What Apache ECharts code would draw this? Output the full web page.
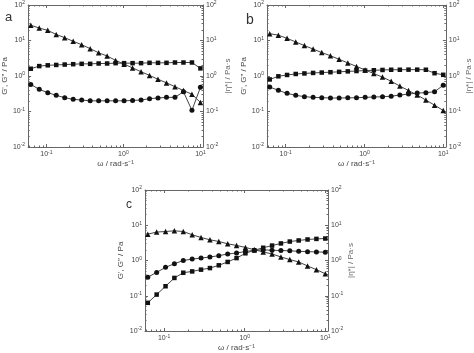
<!DOCTYPE html>
<html><head><meta charset="utf-8">
<script src="https://cdn.jsdelivr.net/npm/echarts@6/dist/echarts.min.js"></script>
<style>html,body{margin:0;padding:0;background:#fff}#c{width:474px;height:353px}</style>
</head><body><div id="c"></div>
<script>
// angular frequency (rad/s)
const omega = [0.0628, 0.0809, 0.1043, 0.1343, 0.1731, 0.2231, 0.2874, 0.3704, 0.4773, 0.615, 0.7926, 1.021, 1.316, 1.696, 2.185, 2.815, 3.627, 4.674, 6.023, 7.761, 10.0];
// panel a
const aStorage = [1.6, 1.9, 2.0, 2.05, 2.1, 2.15, 2.2, 2.2, 2.25, 2.25, 2.3, 2.3, 2.3, 2.3, 2.35, 2.35, 2.35, 2.4, 2.4, 2.4, 1.64];
const aLoss = [0.58, 0.42, 0.34, 0.285, 0.245, 0.22, 0.21, 0.2, 0.2, 0.2, 0.2, 0.2, 0.205, 0.21, 0.23, 0.24, 0.25, 0.25, 0.36, 0.108, 0.48];
const aEta = [27, 22.4, 19.3, 14.8, 12, 9.5, 7.6, 5.9, 4.5, 3.66, 2.75, 2.16, 1.69, 1.32, 1.04, 0.81, 0.64, 0.5, 0.39, 0.305, 0.18];
// panel b
const bStorage = [0.8, 0.98, 1.07, 1.14, 1.18, 1.22, 1.25, 1.28, 1.31, 1.35, 1.38, 1.42, 1.45, 1.48, 1.5, 1.5, 1.51, 1.51, 1.5, 1.2, 1.08];
const bLoss = [0.49, 0.394, 0.325, 0.285, 0.262, 0.25, 0.245, 0.24, 0.24, 0.242, 0.245, 0.25, 0.256, 0.26, 0.27, 0.29, 0.31, 0.33, 0.34, 0.36, 0.55];
const bEta = [15.6, 14.1, 11.5, 9.1, 7.2, 5.75, 4.57, 3.72, 2.95, 2.34, 1.86, 1.48, 1.17, 0.93, 0.71, 0.52, 0.39, 0.29, 0.21, 0.151, 0.107];
// panel c
const cStorage = [0.063, 0.108, 0.186, 0.32, 0.45, 0.49, 0.55, 0.61, 0.73, 0.91, 1.17, 1.6, 1.95, 2.3, 2.65, 3.05, 3.45, 3.7, 3.95, 4.1, 4.2];
const cLoss = [0.335, 0.46, 0.64, 0.81, 1.0, 1.1, 1.17, 1.26, 1.37, 1.53, 1.63, 1.8, 1.95, 2.0, 1.95, 1.92, 1.88, 1.82, 1.78, 1.75, 1.72];
const cEta = [5.6, 6.4, 6.65, 6.95, 6.65, 5.37, 4.5, 3.87, 3.47, 2.98, 2.67, 2.35, 2.02, 1.75, 1.53, 1.26, 1.06, 0.91, 0.7, 0.55, 0.42];

const panelLabels = ['a', 'b', 'c'];
const xName = 'ω / rad·s⁻¹';
const yLeftName = 'G\', G" / Pa';
const yRightName = '|η*| / Pa·s';

const FONT = 'Liberation Sans, Arial, sans-serif';
const AX = '#666', TX = '#444';

function fmt(v) {
  const l = Math.log10(v);
  const e = Math.round(l);
  if (Math.abs(l - e) > 1e-6) return '';
  return '{b|10}{s|' + e + '}';
}
const rich = {
  b: {fontSize: 7, fontFamily: FONT, color: TX},
  s: {fontSize: 5, fontFamily: FONT, color: TX, verticalAlign: 'top', padding: [0, 0, 4, 0]}
};

const grids = [
  {left: 24, top: 5, width: 179, height: 142},
  {left: 267, top: 5, width: 181, height: 142},
  {left: 145, top: 190, width: 183, height: 142}
];
const yLGap = [14, 14, 20], yRGap = [21, 16, 15];

const xAxes = [], yAxes = [];
grids.forEach((g, i) => {
  const common = {
    type: 'log', logBase: 10, gridIndex: i,
    axisLine: {show: true, lineStyle: {color: AX, width: 1}},
    axisTick: {show: true, inside: true, length: 3, lineStyle: {color: AX}},
    minorTick: {show: true, splitNumber: 9, length: 1.5, lineStyle: {color: AX}},
    splitLine: {show: false}
  };
  xAxes.push(Object.assign({}, common, {
    position: 'bottom', min: 0.058, max: 10.8,
    axisLabel: {formatter: fmt, rich: rich, margin: 3},
    name: xName, nameLocation: 'middle', nameGap: 13,
    nameTextStyle: {fontSize: 8, fontFamily: FONT, color: TX}
  }));
  yAxes.push(Object.assign({}, common, {
    position: 'left', min: 0.01, max: 100,
    axisLabel: {formatter: fmt, rich: rich, margin: 3},
    name: yLeftName, nameLocation: 'middle', nameGap: yLGap[i], nameRotate: 90,
    nameTextStyle: {fontSize: 8, fontFamily: FONT, color: TX}
  }));
});
grids.forEach((g, i) => {
  const common = {
    type: 'log', logBase: 10, gridIndex: i,
    axisLine: {show: true, lineStyle: {color: AX, width: 1}},
    axisTick: {show: true, inside: true, length: 3, lineStyle: {color: AX}},
    minorTick: {show: true, splitNumber: 9, length: 1.5, lineStyle: {color: AX}},
    splitLine: {show: false}
  };
  xAxes.push(Object.assign({}, common, {
    position: 'top', min: 0.058, max: 10.8, axisLabel: {show: false}
  }));
  yAxes.push(Object.assign({}, common, {
    position: 'right', min: 0.01, max: 100,
    axisLabel: {formatter: fmt, rich: rich, margin: 3},
    name: yRightName, nameLocation: 'middle', nameGap: yRGap[i], nameRotate: 90,
    nameTextStyle: {fontSize: 8, fontFamily: FONT, color: '#666'}
  }));
});

function mk(arr, sym, size, gi, yi) {
  return {
    type: 'line', xAxisIndex: gi, yAxisIndex: yi,
    data: omega.map((w, k) => [w, arr[k]]),
    symbol: sym, symbolSize: size, showSymbol: true,
    lineStyle: {color: '#444', width: 1},
    itemStyle: {color: '#111'},
    emphasis: {disabled: true}
  };
}

const series = [
  mk(aStorage, 'rect', 4.5, 0, 0), mk(aLoss, 'circle', 5, 0, 0), mk(aEta, 'triangle', 5.5, 0, 3),
  mk(bStorage, 'rect', 4.5, 1, 1), mk(bLoss, 'circle', 5, 1, 1), mk(bEta, 'triangle', 5.5, 1, 4),
  mk(cStorage, 'rect', 4.5, 2, 2), mk(cLoss, 'circle', 5, 2, 2), mk(cEta, 'triangle', 5.5, 2, 5)
];

const chart = echarts.init(document.getElementById('c'), null, {renderer: 'canvas'});
chart.setOption({
  animation: false,
  backgroundColor: '#fff',
  textStyle: {fontFamily: FONT},
  title: [
    {text: panelLabels[0], left: 0, top: 6, textStyle: {fontSize: 13, fontWeight: 'normal', color: '#333', fontFamily: FONT}},
    {text: panelLabels[1], left: 241, top: 8, textStyle: {fontSize: 14, fontWeight: 'normal', color: '#333', fontFamily: FONT}},
    {text: panelLabels[2], left: 121, top: 194, textStyle: {fontSize: 12, fontWeight: 'normal', color: '#333', fontFamily: FONT}}
  ],
  grid: grids,
  xAxis: xAxes,
  yAxis: yAxes,
  series: series
});
</script>
</body></html>
